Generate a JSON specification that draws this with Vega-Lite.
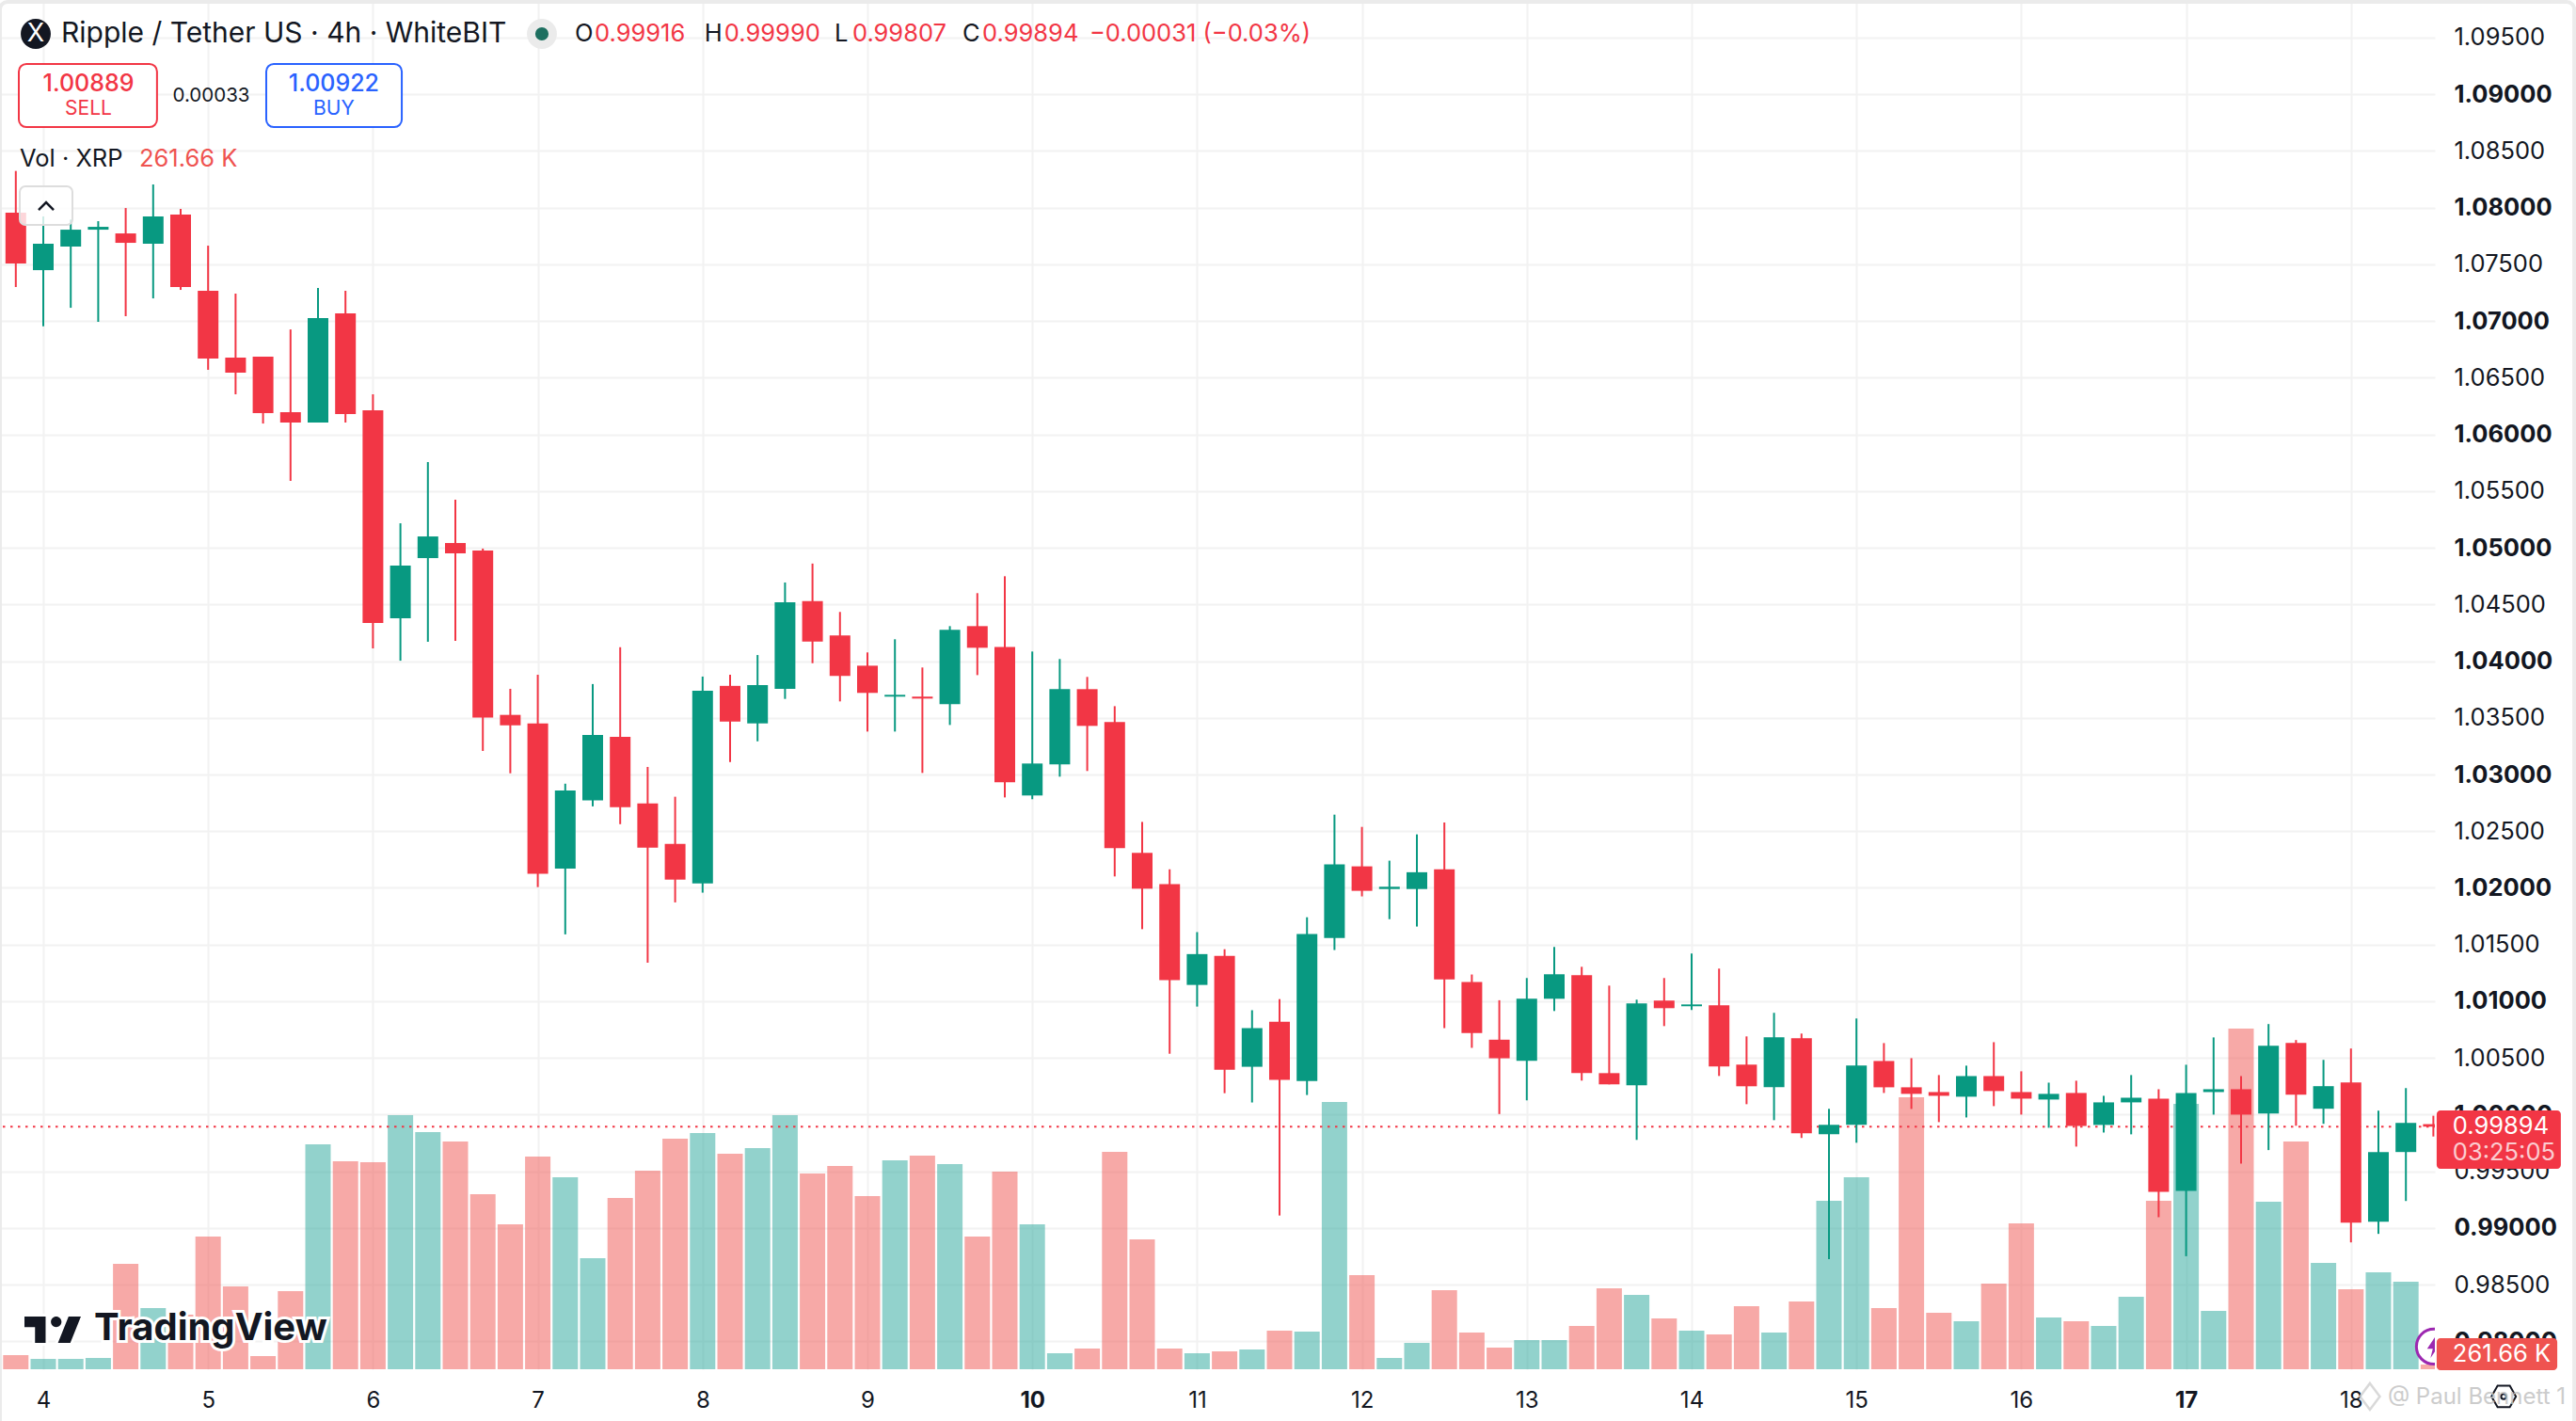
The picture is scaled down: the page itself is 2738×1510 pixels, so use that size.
{
  "$schema": "https://vega.github.io/schema/vega-lite/v6.json",
  "width": 2588,
  "height": 1455,
  "autosize": {"type": "none"},
  "padding": {"left": 0, "top": 0, "right": 150, "bottom": 55},
  "background": "#ffffff",
  "config": {
    "font": "Inter",
    "view": {"stroke": null},
    "text": {"font": "Inter", "fontSize": 25.5, "align": "left", "baseline": "middle", "color": "#131722"}
  },
  "datasets": {
    "candles": [
      {"bar":0,"open":1.07956,"high":1.08324,"low":1.073,"close":1.07507,"volume":785},
      {"bar":1,"open":1.07449,"high":1.07923,"low":1.06954,"close":1.07682,"volume":575},
      {"bar":2,"open":1.07657,"high":1.07895,"low":1.07117,"close":1.07806,"volume":575},
      {"bar":3,"open":1.07806,"high":1.07881,"low":1.06993,"close":1.07831,"volume":628},
      {"bar":4,"open":1.07773,"high":1.07997,"low":1.07043,"close":1.0769,"volume":5858},
      {"bar":5,"open":1.07682,"high":1.08205,"low":1.072,"close":1.07923,"volume":3400},
      {"bar":6,"open":1.07939,"high":1.07989,"low":1.07275,"close":1.073,"volume":3033},
      {"bar":7,"open":1.07267,"high":1.07665,"low":1.0657,"close":1.06669,"volume":7374},
      {"bar":8,"open":1.06677,"high":1.07242,"low":1.06354,"close":1.06545,"volume":4602},
      {"bar":9,"open":1.06686,"high":1.06686,"low":1.06096,"close":1.06188,"volume":732},
      {"bar":10,"open":1.06196,"high":1.06926,"low":1.0559,"close":1.06105,"volume":4341},
      {"bar":11,"open":1.06105,"high":1.07292,"low":1.06105,"close":1.07026,"volume":12500},
      {"bar":12,"open":1.07067,"high":1.07267,"low":1.06105,"close":1.06179,"volume":11558},
      {"bar":13,"open":1.06213,"high":1.06354,"low":1.04112,"close":1.04337,"volume":11506},
      {"bar":14,"open":1.04378,"high":1.05216,"low":1.04004,"close":1.04843,"volume":14121},
      {"bar":15,"open":1.04909,"high":1.05756,"low":1.04171,"close":1.051,"volume":13180},
      {"bar":16,"open":1.05042,"high":1.05424,"low":1.04179,"close":1.04951,"volume":12657},
      {"bar":17,"open":1.04976,"high":1.04993,"low":1.03208,"close":1.03503,"volume":9728},
      {"bar":18,"open":1.03526,"high":1.03756,"low":1.03011,"close":1.03434,"volume":8054},
      {"bar":19,"open":1.03451,"high":1.0388,"low":1.02007,"close":1.02125,"volume":11820},
      {"bar":20,"open":1.02171,"high":1.02919,"low":1.0159,"close":1.0286,"volume":10669},
      {"bar":21,"open":1.02771,"high":1.03798,"low":1.02719,"close":1.03349,"volume":6171},
      {"bar":22,"open":1.03333,"high":1.04123,"low":1.02562,"close":1.02712,"volume":9519},
      {"bar":23,"open":1.02745,"high":1.03067,"low":1.0134,"close":1.02355,"volume":11035},
      {"bar":24,"open":1.02388,"high":1.02804,"low":1.01872,"close":1.02073,"volume":12814},
      {"bar":25,"open":1.0204,"high":1.03864,"low":1.01958,"close":1.03739,"volume":13127},
      {"bar":26,"open":1.03782,"high":1.0388,"low":1.0311,"close":1.03467,"volume":11977},
      {"bar":27,"open":1.03451,"high":1.04054,"low":1.03293,"close":1.03789,"volume":12291},
      {"bar":28,"open":1.03756,"high":1.04694,"low":1.03667,"close":1.0452,"volume":14121},
      {"bar":29,"open":1.0453,"high":1.04861,"low":1.03982,"close":1.04173,"volume":10878},
      {"bar":30,"open":1.04226,"high":1.04434,"low":1.03645,"close":1.03869,"volume":11297},
      {"bar":31,"open":1.0396,"high":1.04077,"low":1.03379,"close":1.0372,"volume":9623},
      {"bar":32,"open":1.03687,"high":1.04193,"low":1.03379,"close":1.03703,"volume":11611},
      {"bar":33,"open":1.03687,"high":1.03944,"low":1.03014,"close":1.0367,"volume":11872},
      {"bar":34,"open":1.0362,"high":1.04309,"low":1.03437,"close":1.04276,"volume":11401},
      {"bar":35,"open":1.04309,"high":1.046,"low":1.03877,"close":1.04118,"volume":7374},
      {"bar":36,"open":1.04126,"high":1.04749,"low":1.02798,"close":1.02931,"volume":10983},
      {"bar":37,"open":1.02815,"high":1.04085,"low":1.02782,"close":1.03097,"volume":8054},
      {"bar":38,"open":1.03089,"high":1.04019,"low":1.02981,"close":1.03753,"volume":889},
      {"bar":39,"open":1.03753,"high":1.03861,"low":1.03031,"close":1.03429,"volume":1151},
      {"bar":40,"open":1.03462,"high":1.03603,"low":1.02101,"close":1.0235,"volume":12081},
      {"bar":41,"open":1.02309,"high":1.02582,"low":1.01636,"close":1.01993,"volume":7217},
      {"bar":42,"open":1.02033,"high":1.02164,"low":1.00537,"close":1.01186,"volume":1151},
      {"bar":43,"open":1.01144,"high":1.0161,"low":1.00953,"close":1.01416,"volume":889},
      {"bar":44,"open":1.014,"high":1.01459,"low":1.00189,"close":1.00396,"volume":994},
      {"bar":45,"open":1.00422,"high":1.00921,"low":1.00107,"close":1.00763,"volume":1098},
      {"bar":46,"open":1.00819,"high":1.01019,"low":0.9911,"close":1.00307,"volume":2144},
      {"bar":47,"open":1.00297,"high":1.01741,"low":1.00173,"close":1.01593,"volume":2092},
      {"bar":48,"open":1.01557,"high":1.02646,"low":1.01452,"close":1.02207,"volume":14853},
      {"bar":49,"open":1.0219,"high":1.02538,"low":1.01925,"close":1.01974,"volume":5230},
      {"bar":50,"open":1.0199,"high":1.0224,"low":1.01724,"close":1.0201,"volume":628},
      {"bar":51,"open":1.0199,"high":1.02472,"low":1.01659,"close":1.02138,"volume":1464},
      {"bar":52,"open":1.02164,"high":1.02577,"low":1.00763,"close":1.01193,"volume":4393},
      {"bar":53,"open":1.0117,"high":1.01236,"low":1.00589,"close":1.0072,"volume":2040},
      {"bar":54,"open":1.00661,"high":1.01009,"low":1.00005,"close":1.00497,"volume":1203},
      {"bar":55,"open":1.00474,"high":1.01205,"low":1.00126,"close":1.01022,"volume":1621},
      {"bar":56,"open":1.01022,"high":1.01479,"low":1.00914,"close":1.01238,"volume":1621},
      {"bar":57,"open":1.0123,"high":1.01304,"low":1.003,"close":1.00366,"volume":2406},
      {"bar":58,"open":1.00366,"high":1.01138,"low":1.00267,"close":1.00267,"volume":4498},
      {"bar":59,"open":1.00258,"high":1.01014,"low":0.99777,"close":1.00981,"volume":4132},
      {"bar":60,"open":1.01006,"high":1.01205,"low":1.00781,"close":1.00939,"volume":2824},
      {"bar":61,"open":1.00956,"high":1.01421,"low":1.00923,"close":1.00972,"volume":2144},
      {"bar":62,"open":1.00964,"high":1.01288,"low":1.00341,"close":1.00424,"volume":1935},
      {"bar":63,"open":1.00441,"high":1.0069,"low":1.00092,"close":1.0025,"volume":3504},
      {"bar":64,"open":1.00242,"high":1.00898,"low":0.99951,"close":1.00682,"volume":2040},
      {"bar":65,"open":1.00673,"high":1.00715,"low":0.99794,"close":0.99835,"volume":3766},
      {"bar":66,"open":0.99827,"high":1.00051,"low":0.98725,"close":0.9991,"volume":9362},
      {"bar":67,"open":0.9991,"high":1.00848,"low":0.99752,"close":1.00433,"volume":10669},
      {"bar":68,"open":1.00473,"high":1.00631,"low":1.00191,"close":1.00241,"volume":3400},
      {"bar":69,"open":1.00241,"high":1.00498,"low":1.0005,"close":1.00183,"volume":15115},
      {"bar":70,"open":1.00199,"high":1.00349,"low":0.99934,"close":1.00166,"volume":3138},
      {"bar":71,"open":1.00158,"high":1.00432,"low":0.99975,"close":1.0034,"volume":2667},
      {"bar":72,"open":1.0034,"high":1.00639,"low":1.00075,"close":1.00208,"volume":4759},
      {"bar":73,"open":1.00199,"high":1.00382,"low":1.0,"close":1.00141,"volume":8107},
      {"bar":74,"open":1.00133,"high":1.00282,"low":0.99884,"close":1.00183,"volume":2877},
      {"bar":75,"open":1.00191,"high":1.00299,"low":0.99718,"close":0.999,"volume":2667},
      {"bar":76,"open":0.99909,"high":1.00166,"low":0.99842,"close":1.00108,"volume":2406},
      {"bar":77,"open":1.00108,"high":1.00349,"low":0.99826,"close":1.00149,"volume":4027},
      {"bar":78,"open":1.00141,"high":1.00224,"low":0.99095,"close":0.99319,"volume":9362},
      {"bar":79,"open":0.99328,"high":1.0044,"low":0.98751,"close":1.00191,"volume":14749},
      {"bar":80,"open":1.00199,"high":1.00681,"low":1.0,"close":1.00224,"volume":3243},
      {"bar":81,"open":1.00224,"high":1.0034,"low":0.99568,"close":1.0,"volume":18933},
      {"bar":82,"open":1.0001,"high":1.00799,"low":0.99687,"close":1.00608,"volume":9309},
      {"bar":83,"open":1.00633,"high":1.00658,"low":0.99902,"close":1.00176,"volume":12657},
      {"bar":84,"open":1.00052,"high":1.00483,"low":0.99919,"close":1.00251,"volume":5910},
      {"bar":85,"open":1.00284,"high":1.00583,"low":0.98873,"close":0.99047,"volume":4446},
      {"bar":86,"open":0.99056,"high":1.00035,"low":0.98948,"close":0.9967,"volume":5387},
      {"bar":87,"open":0.9967,"high":1.00234,"low":0.99238,"close":0.99927,"volume":4864},
      {"bar":88,"open":0.99916,"high":0.9999,"low":0.99807,"close":0.99894,"volume":262}
    ]
  },
  "data": {"name": "candles"},
  "encoding": {
    "x": {
      "type": "quantitative",
      "scale": {"domain": [-0.5753, 88.055], "nice": false, "zero": false, "padding": 0},
      "axis": {
        "title": null,
        "values": [1, 7, 13, 19, 25, 31, 37, 43, 49, 55, 61, 67, 73, 79, 85],
        "labelExpr": "floor((datum.value - 1) / 6) + 4",
        "grid": true,
        "gridColor": "#f2f2f2",
        "gridWidth": 2,
        "domain": false,
        "ticks": false,
        "labelFont": "Inter",
        "labelFontSize": 24,
        "labelColor": "#131722",
        "labelPadding": 21,
        "labelFlush": false,
        "labelOverlap": false,
        "labelFontWeight": {"condition": {"test": "datum.value == 37 || datum.value == 79", "value": "bold"}, "value": "normal"}
      }
    }
  },
  "layer": [
    {
      "mark": {"type": "bar", "size": 27, "clip": true, "orient": "vertical"},
      "encoding": {
        "x": {"field": "bar"},
        "y": {"field": "volume", "type": "quantitative", "stack": null, "scale": {"domain": [0, 76097], "nice": false}, "axis": null},
        "color": {"condition": {"test": "datum.close >= datum.open", "value": "#26A69A"}, "value": "#EF5350"},
        "opacity": {"value": 0.5}
      }
    },
    {
      "encoding": {
        "y": {
          "type": "quantitative",
          "scale": {"domain": [0.97754, 1.09832], "nice": false, "zero": false},
          "axis": {
            "title": null,
            "orient": "right",
            "values": [0.98, 0.985, 0.99, 0.995, 1, 1.005, 1.01, 1.015, 1.02, 1.025, 1.03, 1.035, 1.04, 1.045, 1.05, 1.055, 1.06, 1.065, 1.07, 1.075, 1.08, 1.085, 1.09, 1.095],
            "format": ".5f",
            "grid": true,
            "gridColor": "#f2f2f2",
            "gridWidth": 2,
            "domain": false,
            "ticks": false,
            "labelFont": "Inter",
            "labelFontSize": 25.5,
            "labelColor": "#131722",
            "labelPadding": 20,
            "labelOverlap": false,
            "labelFlush": false,
            "labelFontWeight": {"condition": {"test": "round(datum.value * 1000) % 10 == 0", "value": "bold"}, "value": "normal"}
          }
        }
      },
      "layer": [
        {
          "mark": {"type": "rule", "stroke": "#F23645", "strokeWidth": 2, "strokeDash": [2.5, 5.5]},
          "data": {"values": [{"last": 0.99894}]},
          "encoding": {"x": {"datum": -0.4726}, "x2": {"datum": 88.055}, "y": {"field": "last"}}
        },
        {
          "mark": {"type": "rule", "strokeWidth": 2, "clip": true},
          "encoding": {
            "x": {"field": "bar"},
            "y": {"field": "low"},
            "y2": {"field": "high"},
            "color": {"condition": {"test": "datum.close >= datum.open", "value": "#089981"}, "value": "#F23645"}
          }
        },
        {
          "mark": {"type": "bar", "size": 22, "clip": true, "orient": "vertical"},
          "encoding": {
            "x": {"field": "bar"},
            "y": {"field": "open"},
            "y2": {"field": "close"},
            "color": {"condition": {"test": "datum.close >= datum.open", "value": "#089981"}, "value": "#F23645"}
          }
        },
        {
          "mark": {"type": "point", "filled": true, "fill": "#131722", "size": 1018, "shape": "circle", "opacity": 1},
          "data": {"values": [{"icon": "ripple"}]},
          "encoding": {"x": {"datum": 0.726}, "y": {"datum": 1.09533}}
        },
        {
          "mark": {"type": "text", "text": "X", "color": "#ffffff", "align": "center", "fontSize": 27},
          "data": {"values": [{"icon": "ripple"}]},
          "encoding": {"x": {"datum": 0.726}, "y": {"datum": 1.09533}}
        },
        {
          "mark": {"type": "text", "fontSize": 30},
          "data": {"values": [{"label": "Ripple / Tether US · 4h · WhiteBIT"}]},
          "encoding": {"x": {"datum": 1.651}, "y": {"datum": 1.09533}, "text": {"field": "label"}}
        },
        {
          "mark": {"type": "point", "filled": true, "fill": "#ebebeb", "size": 1018, "shape": "circle", "opacity": 1},
          "data": {"values": [{"icon": "status"}]},
          "encoding": {"x": {"datum": 19.15}, "y": {"datum": 1.09533}}
        },
        {
          "mark": {"type": "point", "filled": true, "fill": "#1d6f60", "size": 200, "shape": "circle", "opacity": 1},
          "data": {"values": [{"icon": "status"}]},
          "encoding": {"x": {"datum": 19.15}, "y": {"datum": 1.09533}}
        },
        {
          "mark": {"type": "text"},
          "data": {"values": [{"label": "O"}]},
          "encoding": {"x": {"datum": 20.35}, "y": {"datum": 1.09533}, "text": {"field": "label"}}
        },
        {
          "mark": {"type": "text", "color": "#F23645"},
          "data": {"values": [{"label": "0.99916"}]},
          "encoding": {"x": {"datum": 21.07}, "y": {"datum": 1.09533}, "text": {"field": "label"}}
        },
        {
          "mark": {"type": "text"},
          "data": {"values": [{"label": "H"}]},
          "encoding": {"x": {"datum": 25.07}, "y": {"datum": 1.09533}, "text": {"field": "label"}}
        },
        {
          "mark": {"type": "text", "color": "#F23645"},
          "data": {"values": [{"label": "0.99990"}]},
          "encoding": {"x": {"datum": 25.79}, "y": {"datum": 1.09533}, "text": {"field": "label"}}
        },
        {
          "mark": {"type": "text"},
          "data": {"values": [{"label": "L"}]},
          "encoding": {"x": {"datum": 29.8}, "y": {"datum": 1.09533}, "text": {"field": "label"}}
        },
        {
          "mark": {"type": "text", "color": "#F23645"},
          "data": {"values": [{"label": "0.99807"}]},
          "encoding": {"x": {"datum": 30.45}, "y": {"datum": 1.09533}, "text": {"field": "label"}}
        },
        {
          "mark": {"type": "text"},
          "data": {"values": [{"label": "C"}]},
          "encoding": {"x": {"datum": 34.46}, "y": {"datum": 1.09533}, "text": {"field": "label"}}
        },
        {
          "mark": {"type": "text", "color": "#F23645"},
          "data": {"values": [{"label": "0.99894"}]},
          "encoding": {"x": {"datum": 35.18}, "y": {"datum": 1.09533}, "text": {"field": "label"}}
        },
        {
          "mark": {"type": "text", "color": "#F23645"},
          "data": {"values": [{"label": "−0.00031 (−0.03%)"}]},
          "encoding": {"x": {"datum": 39.08}, "y": {"datum": 1.09533}, "text": {"field": "label"}}
        },
        {
          "mark": {"type": "rect", "fill": "#ffffff", "stroke": "#F23645", "strokeWidth": 2, "cornerRadius": 8},
          "data": {"values": [{"box": "sell"}]},
          "encoding": {"x": {"datum": 0.11}, "x2": {"datum": 5.14}, "y": {"datum": 1.09268}, "y2": {"datum": 1.08711}}
        },
        {
          "mark": {"type": "text", "color": "#F23645", "align": "center", "fontSize": 25, "fontWeight": 500},
          "data": {"values": [{"label": "1.00889"}]},
          "encoding": {"x": {"datum": 2.644}, "y": {"datum": 1.09093}, "text": {"field": "label"}}
        },
        {
          "mark": {"type": "text", "color": "#F23645", "align": "center", "fontSize": 21},
          "data": {"values": [{"label": "SELL"}]},
          "encoding": {"x": {"datum": 2.644}, "y": {"datum": 1.08869}, "text": {"field": "label"}}
        },
        {
          "mark": {"type": "text", "align": "center", "fontSize": 20.5},
          "data": {"values": [{"label": "0.00033"}]},
          "encoding": {"x": {"datum": 7.113}, "y": {"datum": 1.08985}, "text": {"field": "label"}}
        },
        {
          "mark": {"type": "rect", "fill": "#ffffff", "stroke": "#2962FF", "strokeWidth": 2, "cornerRadius": 8},
          "data": {"values": [{"box": "buy"}]},
          "encoding": {"x": {"datum": 9.116}, "x2": {"datum": 14.05}, "y": {"datum": 1.09268}, "y2": {"datum": 1.08711}}
        },
        {
          "mark": {"type": "text", "color": "#2962FF", "align": "center", "fontSize": 25, "fontWeight": 500},
          "data": {"values": [{"label": "1.00922"}]},
          "encoding": {"x": {"datum": 11.58}, "y": {"datum": 1.09093}, "text": {"field": "label"}}
        },
        {
          "mark": {"type": "text", "color": "#2962FF", "align": "center", "fontSize": 21},
          "data": {"values": [{"label": "BUY"}]},
          "encoding": {"x": {"datum": 11.58}, "y": {"datum": 1.08869}, "text": {"field": "label"}}
        },
        {
          "mark": {"type": "text"},
          "data": {"values": [{"label": "Vol · XRP"}]},
          "encoding": {"x": {"datum": 0.144}, "y": {"datum": 1.08429}, "text": {"field": "label"}}
        },
        {
          "mark": {"type": "text", "color": "#EF5350"},
          "data": {"values": [{"label": "261.66 K"}]},
          "encoding": {"x": {"datum": 4.493}, "y": {"datum": 1.08429}, "text": {"field": "label"}}
        },
        {
          "mark": {"type": "rect", "fill": "#ffffff", "fillOpacity": 0.8, "stroke": "#dddddd", "strokeWidth": 2, "cornerRadius": 6},
          "data": {"values": [{"box": "collapse"}]},
          "encoding": {"x": {"datum": 0.144}, "x2": {"datum": 2.062}, "y": {"datum": 1.08188}, "y2": {"datum": 1.07848}}
        },
        {
          "mark": {"type": "point", "filled": false, "stroke": "#131722", "strokeWidth": 2.5, "opacity": 1, "size": 256, "shape": "M-1,0.5L0,-0.5L1,0.5"},
          "data": {"values": [{"icon": "chevron"}]},
          "encoding": {"x": {"datum": 1.103}, "y": {"datum": 1.08014}}
        },
        {
          "mark": {"type": "point", "filled": true, "fill": "#ffffff", "stroke": "#ffffff", "strokeWidth": 6, "opacity": 1, "size": 3600, "shape": "M-.25,-.469H-1V-.094H-.625V.469H-.25ZM.625,.469H.1875L.5625,-.469H1ZM-.0625,-.281A.1875,.1875 0 1 1 .3125,-.281A.1875,.1875 0 1 1 -.0625,-.281Z"},
          "data": {"values": [{"icon": "logo"}]},
          "encoding": {"x": {"datum": 1.342}, "y": {"datum": 0.98103}}
        },
        {
          "mark": {"type": "point", "filled": true, "fill": "#131722", "opacity": 1, "size": 3600, "shape": "M-.25,-.469H-1V-.094H-.625V.469H-.25ZM.625,.469H.1875L.5625,-.469H1ZM-.0625,-.281A.1875,.1875 0 1 1 .3125,-.281A.1875,.1875 0 1 1 -.0625,-.281Z"},
          "data": {"values": [{"icon": "logo"}]},
          "encoding": {"x": {"datum": 1.342}, "y": {"datum": 0.98103}}
        },
        {
          "mark": {"type": "text", "fontSize": 40, "fontWeight": 700, "color": "#ffffff", "stroke": "#ffffff", "strokeWidth": 6},
          "data": {"values": [{"label": "TradingView"}]},
          "encoding": {"x": {"datum": 2.85}, "y": {"datum": 0.98107}, "text": {"field": "label"}}
        },
        {
          "mark": {"type": "text", "fontSize": 40, "fontWeight": 700, "color": "#131722"},
          "data": {"values": [{"label": "TradingView"}]},
          "encoding": {"x": {"datum": 2.85}, "y": {"datum": 0.98107}, "text": {"field": "label"}}
        },
        {
          "mark": {"type": "point", "filled": true, "fill": "#ffffff", "stroke": "#9C27B0", "strokeWidth": 3, "opacity": 1, "size": 1385, "shape": "circle", "clip": true},
          "data": {"values": [{"icon": "alert"}]},
          "encoding": {"x": {"datum": 88.02}, "y": {"datum": 0.97954}}
        },
        {
          "mark": {"type": "point", "filled": true, "fill": "#9C27B0", "opacity": 1, "size": 576, "shape": "M.2,-1L-.6,.2H-.1L-.3,1L.6,-.3H.1Z", "clip": true},
          "data": {"values": [{"icon": "alert"}]},
          "encoding": {"x": {"datum": 88.02}, "y": {"datum": 0.97954}}
        },
        {
          "mark": {"type": "rect", "fill": "#F23645", "cornerRadius": 4},
          "data": {"values": [{"box": "price"}]},
          "encoding": {"x": {"datum": 88.12}, "x2": {"datum": 92.64}, "y": {"datum": 1.00037}, "y2": {"datum": 0.99522}}
        },
        {
          "mark": {"type": "text", "color": "#ffffff"},
          "data": {"values": [{"label": "0.99894"}]},
          "encoding": {"x": {"datum": 88.7}, "y": {"datum": 0.99896}, "text": {"field": "label"}}
        },
        {
          "mark": {"type": "text", "color": "#ffffff", "opacity": 0.75},
          "data": {"values": [{"label": "03:25:05"}]},
          "encoding": {"x": {"datum": 88.7}, "y": {"datum": 0.99664}, "text": {"field": "label"}}
        },
        {
          "mark": {"type": "rect", "fill": "#EF5350", "cornerRadius": 4},
          "data": {"values": [{"box": "volume"}]},
          "encoding": {"x": {"datum": 88.12}, "x2": {"datum": 92.51}, "y": {"datum": 0.98028}, "y2": {"datum": 0.97746}}
        },
        {
          "mark": {"type": "text", "color": "#ffffff"},
          "data": {"values": [{"label": "261.66 K"}]},
          "encoding": {"x": {"datum": 88.7}, "y": {"datum": 0.97887}, "text": {"field": "label"}}
        },
        {
          "mark": {"type": "point", "filled": false, "stroke": "#131722", "strokeWidth": 2, "opacity": 1, "size": 676, "shape": "M-1,0L-.5,-.87H.5L1,0L.5,.87H-.5Z"},
          "data": {"values": [{"icon": "settings"}]},
          "encoding": {"x": {"datum": 90.56}, "y": {"datum": 0.97514}}
        },
        {
          "mark": {"type": "point", "filled": false, "stroke": "#131722", "strokeWidth": 2, "opacity": 1, "size": 30, "shape": "circle"},
          "data": {"values": [{"icon": "settings"}]},
          "encoding": {"x": {"datum": 90.56}, "y": {"datum": 0.97514}}
        },
        {
          "mark": {"type": "point", "filled": false, "stroke": "#d0d0d0", "strokeWidth": 2.5, "opacity": 0.8, "size": 784, "shape": "M0,-1L.75,0L0,1L-.75,0Z"},
          "data": {"values": [{"icon": "watermark"}]},
          "encoding": {"x": {"datum": 85.69}, "y": {"datum": 0.97514}}
        },
        {
          "mark": {"type": "text", "color": "#c4c4c4", "opacity": 0.85, "fontSize": 24},
          "data": {"values": [{"label": "@ Paul Bennett 1"}]},
          "encoding": {"x": {"datum": 86.34}, "y": {"datum": 0.97505}, "text": {"field": "label"}}
        },
        {
          "mark": {"type": "rect", "fill": null, "stroke": "#ebebeb", "strokeWidth": 4, "cornerRadius": 8},
          "data": {"values": [{"box": "frame"}]},
          "encoding": {"x": {"datum": -0.5753}, "x2": {"datum": 93.13}, "y": {"datum": 1.09815}, "y2": {"datum": 0.97215}}
        }
      ]
    }
  ],
  "resolve": {"scale": {"y": "independent"}}
}
